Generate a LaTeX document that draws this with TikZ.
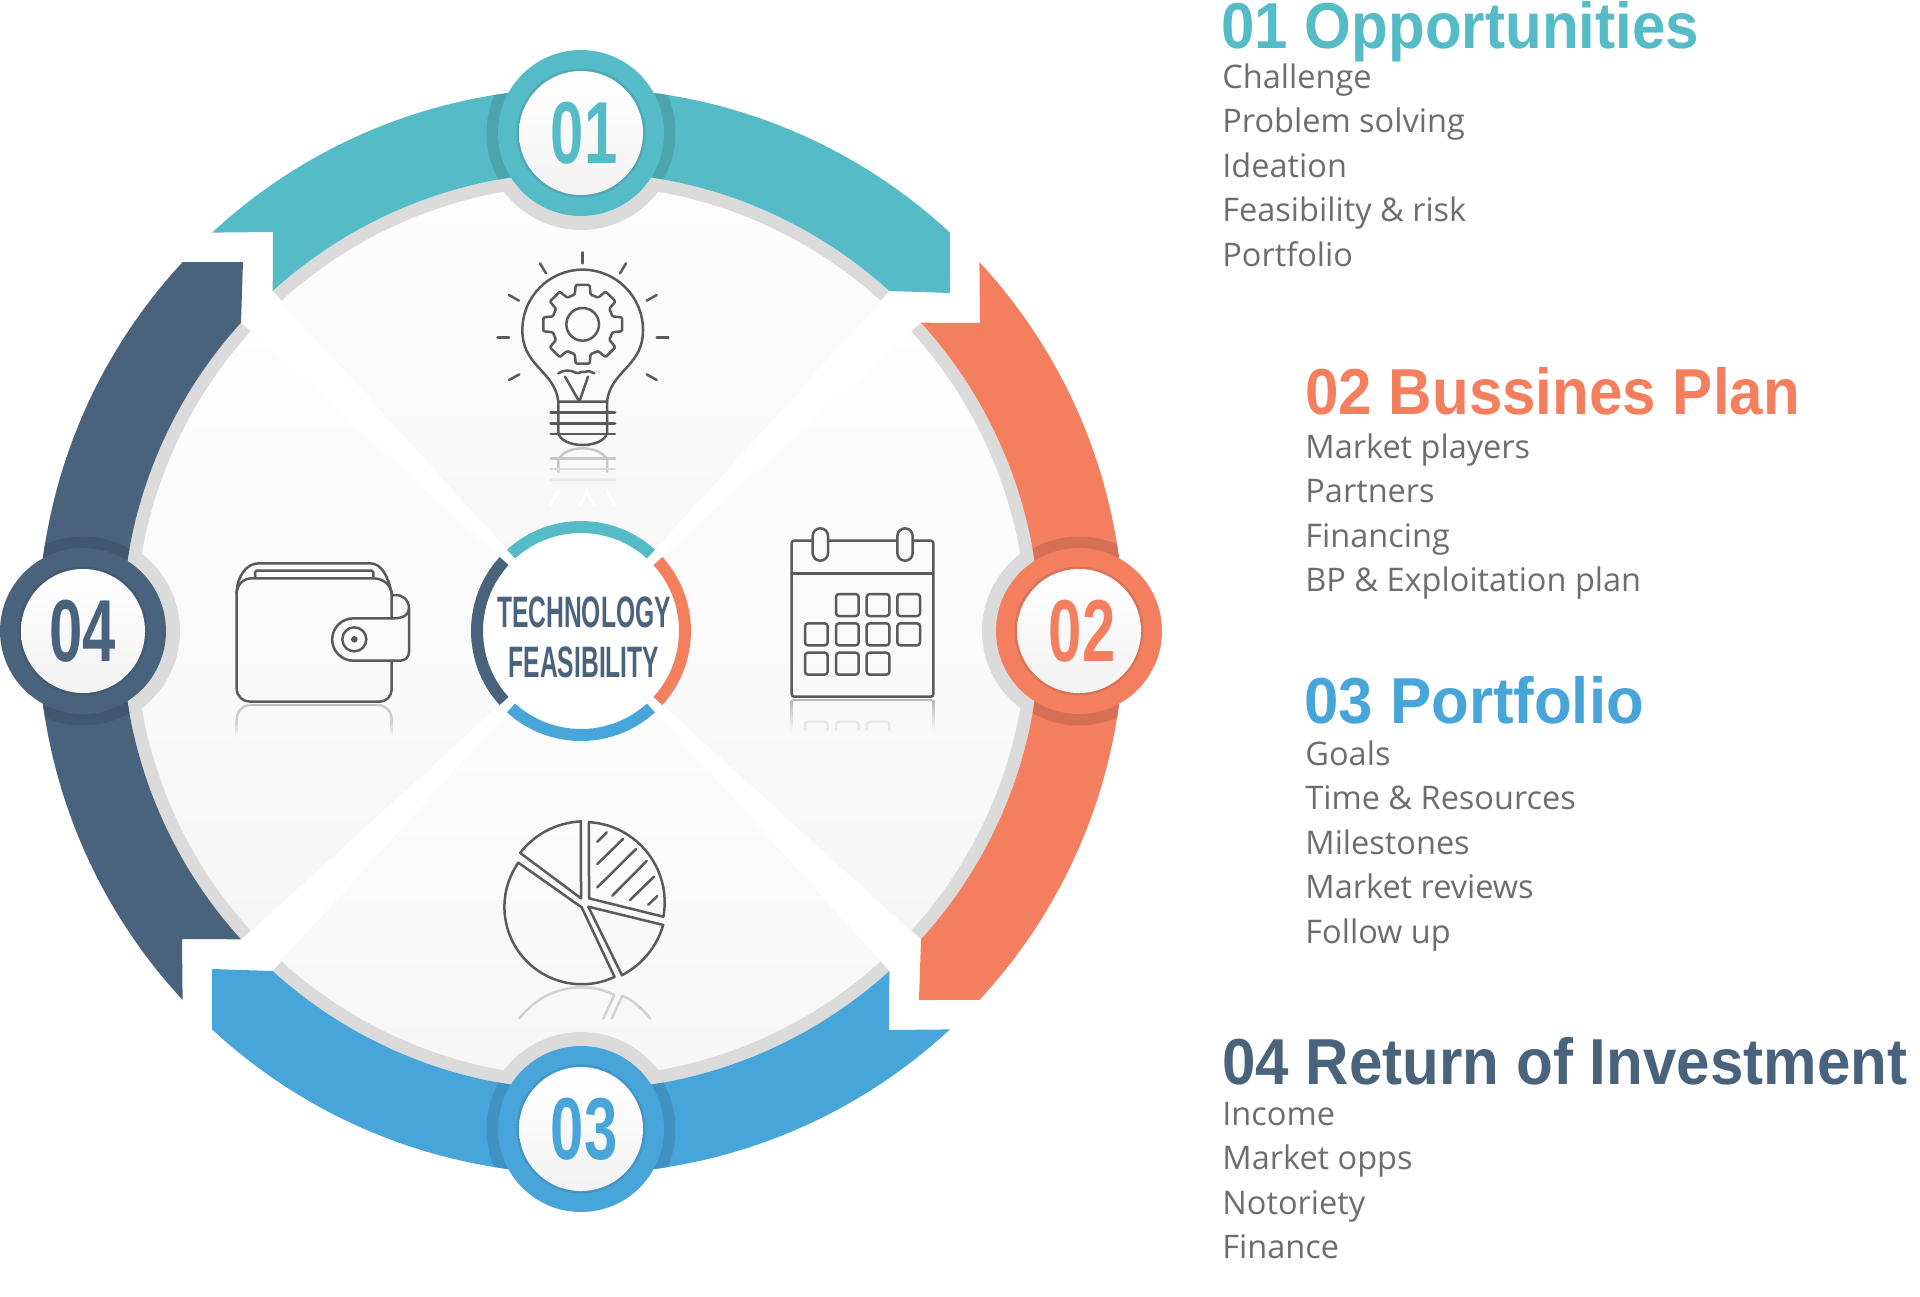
\documentclass[tikz,border=0pt]{standalone}
\usepackage{fontspec}
\usetikzlibrary{matrix}
\setmainfont{Open Sans}
\newfontfamily\headfont[FakeStretch=0.925]{Liberation Sans}
\newfontfamily\headwide[FakeStretch=0.95]{Liberation Sans}
\newfontfamily\digitfont[FakeStretch=0.68]{Liberation Sans}
\newfontfamily\hubfont[FakeStretch=0.56]{Liberation Sans}
\definecolor{tealc}{HTML}{55BBC7}
\definecolor{tealdk}{HTML}{4BA5B0}
\definecolor{orangec}{HTML}{F47F5E}
\definecolor{orangedk}{HTML}{D56F56}
\definecolor{bluec}{HTML}{47A5DA}
\definecolor{bluedk}{HTML}{3F92C2}
\definecolor{navyc}{HTML}{4A637D}
\definecolor{navydk}{HTML}{41576E}
\definecolor{ringgray}{HTML}{DBDBDB}
\definecolor{bodygray}{HTML}{6D6D6D}
\definecolor{icongray}{HTML}{5A5A5A}
\newcommand{\bandpath}{(132.8:543) arc[start angle=132.8,end angle=47.2,radius=543] -- (369,338)
  -- (47.8:459) arc[start angle=47.8,end angle=132.2,radius=459] -- (-308,399) -- cycle}
\tikzset{
  headline/.style={anchor=base west, inner sep=0pt, font=\headfont\bfseries\fontsize{32.5}{36}\selectfont},
  itemlist/.style={matrix of nodes, anchor=north west, inner sep=0pt, row sep=0pt,
    nodes={anchor=base west, inner sep=0pt, text=bodygray, text height=17pt, text depth=5.2pt,
      font=\fontsize{16.25}{20}\selectfont}},
  numdisc/.style={circle, inner sep=0pt, minimum size=62pt, top color=white, bottom color=black!5,
    font=\digitfont\bfseries\fontsize{44}{48}\selectfont},
  iconline/.style={draw=icongray, line width=1.25pt, line cap=round, line join=round},
  iconfade/.style={draw=black!22, line width=1.25pt, line cap=round, line join=round},
  iconscope/.style={x=0.16667pt, y=-0.16667pt}
}
\begin{document}
\begin{tikzpicture}[x=0.5pt, y=0.5pt]
  \useasboundingbox (0,0) rectangle (1920,-1296);
  \begin{scope}[shift={(581,-631)}]
    \foreach \ang/\tint/\dark/\lbl/\nudge in {0/tealc/tealdk/01/3pt, -90/orangec/orangedk/02/3pt, -180/bluec/bluedk/03/3pt, 90/navyc/navydk/04/0pt} {
      \shade[top color=black!0.5, bottom color=black!3.5] (0,0) -- (\ang+47.7:447)
        arc[start angle=\ang+47.7, end angle=\ang+132.3, radius=447] -- cycle;
      \begin{scope}[rotate=\ang]
        \fill[ringgray] (47.8:459) -- (47.8:446) arc[start angle=47.8, end angle=132.2, radius=446]
          -- (132.2:459) arc[start angle=132.2, end angle=47.8, radius=459] -- cycle;
        \begin{scope}
          \clip (0,0) circle (460);
          \fill[ringgray] (0,498) circle (97);
        \end{scope}
        \fill[\tint] \bandpath;
        \begin{scope}
          \clip \bandpath;
          \fill[\dark] (0,498) circle (94.5);
        \end{scope}
        \fill[\tint] (0,498) circle (83);
        \fill[\dark!80!\tint] (0,498) circle (64.5);
      \end{scope}
      \node (num\lbl) [numdisc, text=\tint] at (\ang+90:498) {\hspace*{\nudge}\lbl};
    }
    \fill[white] (0,0) circle (110);
    \foreach \ang/\tint in {0/tealc, -90/orangec, -180/bluec, 90/navyc} {
      \fill[\tint] (\ang+47.7:98) -- (\ang+47.7:110) arc[start angle=\ang+47.7, end angle=\ang+132.3, radius=110]
        -- (\ang+132.3:98) arc[start angle=\ang+132.3, end angle=\ang+47.7, radius=98] -- cycle;
    }
    \node (hub) [align=center, inner sep=0pt, text=navyc, font=\hubfont\bfseries\fontsize{22}{25}\selectfont] at (3,-6) {TECHNOLOGY\\FEASIBILITY};
  \end{scope}

  \begin{scope}[shift={(460,-220)}, iconscope]
    \draw[iconline] (295,545) .. controls (290,500) and (265,475) .. (240,447) .. controls (205,410) and (187,380) .. (187,330)
      arc[start angle=180, end angle=360, radius=181] .. controls (549,380) and (531,410) .. (496,447)
      .. controls (471,475) and (446,500) .. (441,545) -- cycle;
    \draw[iconline] (295,545) -- (295,640) .. controls (300,660) and (330,675) .. (368,675) .. controls (406,675) and (436,660) .. (441,640) -- (441,545);
    \foreach \ly in {577,610,642} \draw[iconline] (272,\ly) -- (465,\ly);
    \foreach \xa/\ya/\xb/\yb in {368/97/368/130, 240/130/258/160, 498/130/480/160, 147/225/177/242, 590/225/560/242, 113/352/147/352, 590/352/625/352, 147/480/178/463, 590/480/560/463}
      \draw[iconline] (\xa,\ya) -- (\xb,\yb);
    \draw[iconline] (295,460) .. controls (315,448) and (330,450) .. (347,458) .. controls (357,463) and (362,452) .. (375,456) .. controls (385,450) and (395,456) .. (403,460);
    \draw[iconline] (315,470) -- (358,545) -- (384,470);
    \begin{scope}[shift={(368,313)}]
      \draw[iconline] (0,0) circle (49);
      \foreach \a in {0,45,...,315}
        \draw[iconline, rounded corners=0.6pt] (\a-22.5:92) -- (\a-15:92) -- (\a-10:120) -- (\a+10:120) -- (\a+15:92) -- (\a+22.5:92);
    \end{scope}
    \draw[iconfade] (295,755) -- (295,720) .. controls (305,695) and (340,685) .. (368,685) .. controls (396,685) and (431,695) .. (441,720) -- (441,755);
    \draw[iconfade] (272,715) -- (465,715);
    \draw[iconfade, draw=black!15] (272,747) -- (465,747);
    \draw[iconfade, draw=black!8] (272,779) -- (465,779);
    \draw[line width=1.25pt, white] (270,858) -- (295,810) (465,858) -- (440,810) (360,858) -- (380,815) -- (405,858);
  \end{scope}

  \begin{scope}[shift={(760,-500)}, iconscope]
    \draw[iconline, rounded corners=1.2pt] (95,122) rectangle (520,590);
    \draw[iconline] (95,220) -- (520,220);
    \foreach \rx in {158,412}
      \draw[iconline, fill=black!2, rounded corners=3.8pt] (\rx,85) rectangle ++(46,97);
    \foreach \cx/\cy in {228/282, 320/282, 412/282, 135/370, 228/370, 320/370, 412/370, 135/458, 228/458, 320/458}
      \draw[iconline, rounded corners=1.5pt] (\cx,\cy) rectangle ++(68,66);
    \draw[iconfade, draw=black!28] (100,600) -- (515,600);
    \foreach \sx in {92,517}
      \shade[top color=black!28, bottom color=black!2] (\sx,602) rectangle ++(6,92);
    \foreach \cx in {135,228,320}
      \draw[iconfade, draw=black!9, rounded corners=1.5pt] (\cx,690) -- (\cx,665) -- ++(68,0) -- ++(0,25);
  \end{scope}

  \begin{scope}[shift={(210,-540)}, iconscope]
    \draw[iconline] (80,160) .. controls (80,110) and (110,70) .. (145,70) -- (480,70) .. controls (515,70) and (535,110) .. (545,160);
    \draw[iconline, rounded corners=0.8pt] (135,110) -- (135,92) -- (490,92) -- (490,110);
    \draw[iconline] (545,235) -- (545,165) .. controls (545,135) and (520,115) .. (490,115) -- (125,115) .. controls (100,115) and (80,135) .. (80,160)
      -- (80,445) .. controls (80,470) and (100,485) .. (120,485) -- (505,485) .. controls (530,485) and (545,470) .. (545,445) -- (545,365);
    \draw[iconline] (545,165) -- (555,165) .. controls (580,165) and (597,180) .. (597,205) -- (597,335) .. controls (597,352) and (585,362) .. (570,362)
      -- (430,362) arc[start angle=90, end angle=270, radius=63.5] -- (550,235) .. controls (578,235) and (597,225) .. (597,205);
    \draw[iconline] (433,298) circle (36);
    \fill[icongray] (433,298) circle (10);
    \draw[iconfade, draw=black!25] (120,495) -- (505,495);
    \draw[iconfade, draw=black!20] (120,495) .. controls (95,497) and (80,515) .. (80,540);
    \draw[iconfade, draw=black!20] (505,495) .. controls (530,497) and (545,515) .. (545,540);
    \foreach \sx in {77,542}
      \shade[top color=black!20, bottom color=black!2] (\sx,540) rectangle ++(6,50);
  \end{scope}

  \begin{scope}[shift={(480,-790)}, iconscope]
    \begin{scope}[shift={(313,337)}]
      \draw[iconline] (14,-12) -- (-86.7:241) arc[start angle=-86.7, end angle=10.3, radius=241] -- cycle;
      \draw[iconline] (-10,-12) -- (-92.4:243) arc[start angle=-92.4, end angle=-142.4, radius=243] -- cycle;
      \draw[iconline] (12,13) -- (16:246) arc[start angle=16, end angle=62.7, radius=246] -- cycle;
    \end{scope}
    \draw[iconline] (305,352) -- (115,218) arc[start angle=214.9, end angle=64.9, radius=232] -- cycle;
    \foreach \xa/\ya/\xb/\yb in {352/155/380/127, 352/222/430/146, 352/292/468/177, 397/317/500/213, 450/330/522/260, 505/344/532/318}
      \draw[iconline] (\xa,\ya) -- (\xb,\yb);
    \draw[iconfade, draw=black!18] (118,685) .. controls (170,620) and (240,592) .. (300,592) .. controls (340,592) and (375,600) .. (403,615) -- (370,685);
    \draw[iconfade, draw=black!18] (395,685) -- (427,617) .. controls (460,630) and (490,660) .. (510,685);
  \end{scope}

  \node (head01) [headline, text=tealc] at (1221,-48) {01 Opportunities};
  \matrix (list01) [itemlist] at (1222,-54) {
    Challenge \\
    Problem solving \\
    Ideation \\
    Feasibility \& risk \\
    Portfolio \\
  };
  \node (head02) [headline, text=orangec] at (1305,-414) {02 Bussines Plan};
  \matrix (list02) [itemlist] at (1305,-424) {
    Market players \\
    Partners \\
    Financing \\
    BP \& Exploitation plan \\
  };
  \node (head03) [headline, text=bluec, font=\headwide\bfseries\fontsize{32.5}{36}\selectfont] at (1304,-723) {03 Portfolio};
  \matrix (list03) [itemlist] at (1305,-731) {
    Goals \\
    Time \& Resources \\
    Milestones \\
    Market reviews \\
    Follow up \\
  };
  \node (head04) [headline, text=navyc] at (1222,-1084) {04 Return of Investment};
  \matrix (list04) [itemlist] at (1222,-1091) {
    Income \\
    Market opps \\
    Notoriety \\
    Finance \\
  };
\end{tikzpicture}
\end{document}
